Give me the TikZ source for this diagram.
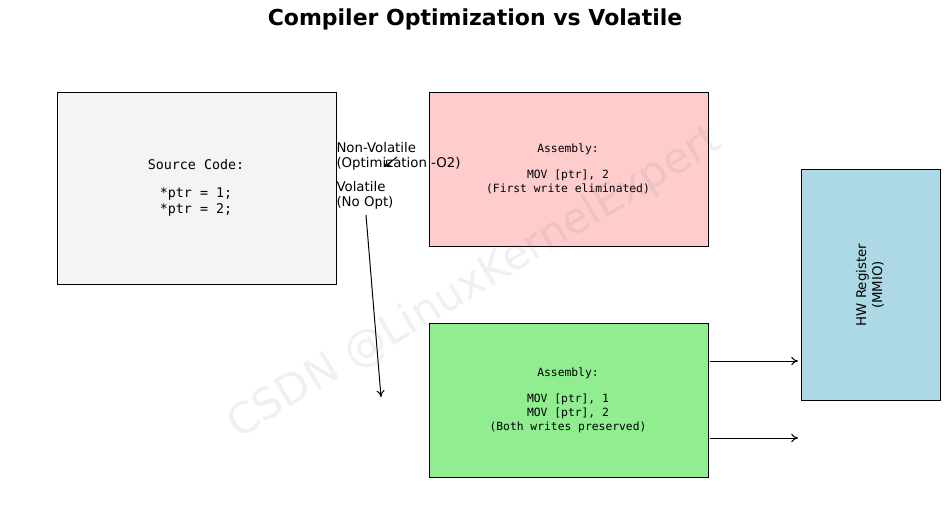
\documentclass[tikz,border=0pt]{standalone}
\usepackage{fontspec}
\setmainfont{DejaVu Sans}
\setmonofont{DejaVu Sans Mono}
\usetikzlibrary{positioning, arrows.meta}
\definecolor{srcgray}{HTML}{F4F4F4}
\definecolor{nvred}{HTML}{FFCCCC}
\definecolor{vgreen}{HTML}{90EE90}
\definecolor{hwblue}{HTML}{ADD8E6}

\begin{document}
\begin{tikzpicture}[x=0.75pt, y=-0.75pt, line width=0.75pt,
    >={To[length=5pt, width=6pt]},
    box/.style={align=center, font=\ttfamily\fontsize{8.5}{10.5}\selectfont},
    lbl/.style={align=left, inner sep=0pt, font=\fontsize{10}{11.5}\selectfont}]
    % Canvas
    \useasboundingbox (0,0) rectangle (950,525);

    % Title
    \node[font=\bfseries\fontsize{16.5}{19}\selectfont] (Title) at (475,19) {Compiler Optimization vs Volatile};

    % Boxes
    \filldraw[fill=srcgray] (57,92) rectangle (336,284);
    \node[box, font=\ttfamily\fontsize{10}{12}\selectfont] (Src) at (196,188) {Source Code:\\[9pt]*ptr = 1;\\*ptr = 2;};
    \filldraw[fill=nvred] (429,92) rectangle (708,246);
    \node[box] (NonVol) at (568,169) {Assembly:\\[9pt]MOV [ptr], 2\\(First write eliminated)};
    \filldraw[fill=vgreen] (429,323) rectangle (708,477);
    \node[box] (Vol) at (568,400) {Assembly:\\[9pt]MOV [ptr], 1\\MOV [ptr], 2\\(Both writes preserved)};
    \filldraw[fill=hwblue] (801,169) rectangle (940,400);
    \node[rotate=90, align=center, font=\fontsize{10}{12}\selectfont] (HW) at (870,285) {HW Register\\(MMIO)};

    % Labels
    \node[lbl, anchor=north west] (LNon) at (336,142) {Non-Volatile\\(Optimization -O2)};
    \node[lbl, anchor=north west] (LVol) at (336,181) {Volatile\\(No Opt)};

    % Arrows
    \coordinate (A1) at (397,157);
    \coordinate (A2) at (384,167);
    \draw[->] (A1) -- (A2);
    \coordinate (B1) at (366,215);
    \coordinate (B2) at (381,397);
    \draw[->] (B1) -- (B2);
    \coordinate (C1) at (710,361);
    \coordinate (C2) at (798,361);
    \draw[->] (C1) -- (C2);
    \coordinate (D1) at (710,438);
    \coordinate (D2) at (798,438);
    \draw[->] (D1) -- (D2);

    % Watermark
    \node[rotate=31, text=gray, text opacity=0.12, font=\fontsize{32}{38}\selectfont] (Mark) at (475,283) {CSDN @LinuxKernelExpert};
\end{tikzpicture}
\end{document}
